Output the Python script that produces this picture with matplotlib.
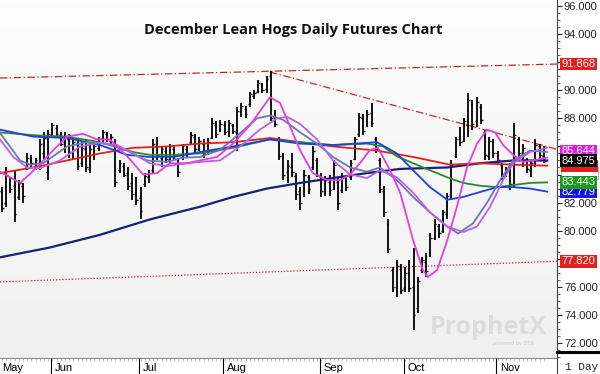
import numpy as np
import matplotlib
matplotlib.use("Agg")
import matplotlib.pyplot as plt
from matplotlib.colors import LinearSegmentedColormap
from matplotlib.lines import Line2D
from matplotlib.patches import Rectangle
from matplotlib.transforms import blended_transform_factory
from matplotlib.ticker import FuncFormatter, MultipleLocator

# daily OHLC bars, index 0 = first bar shown (mid May)
highs = [83.1, 84.5, 83.8, 84.3, 83.6, 83.4, 85.5, 85.4, 85.2, 86.5,
         87.0, 87.2, 87.7, 87.5, 87.0, 87.0, 86.9, 86.7, 86.5, 86.3,
         86.5, 86.1, 86.2, 86.7, 87.2, 87.0, 86.9, 86.5, 85.0, 84.8,
         84.5, 84.1, 83.8, 83.1, 84.1, 84.3, 86.5, 86.7, 86.0, 86.0,
         86.2, 86.0, 85.2, 86.2, 86.0, 87.0, 86.9, 86.7, 86.5, 86.6,
         88.0, 87.8, 87.9, 87.8, 87.9, 87.6, 88.8, 89.1, 88.9, 89.9,
         90.0, 90.7, 90.5, 91.0, 91.35, 88.6, 86.7, 85.5, 85.0, 85.5,
         84.1, 83.1, 84.3, 84.0, 86.0, 85.2, 84.1, 83.9, 84.0, 85.0,
         83.8, 84.1, 83.9, 85.0, 86.7, 88.4, 88.3, 88.6, 89.1, 86.7,
         85.2, 83.2, 80.8, 77.4, 77.9, 77.6, 77.4, 77.9, 78.8, 76.7,
         78.1, 78.4, 79.8, 80.8, 80.5, 81.5, 82.7, 85.0, 86.7, 87.4,
         88.0, 89.8, 89.3, 89.5, 89.0, 87.2, 86.7, 86.5, 85.7, 84.8,
         84.5, 84.8, 87.7, 86.7, 86.2, 85.2, 85.0, 86.5, 86.2, 86.0]
lows = [81.3, 81.7, 82.7, 80.6, 82.2, 82.0, 84.3, 84.5, 84.3, 84.3,
        85.0, 83.6, 86.7, 86.6, 86.0, 85.5, 85.2, 85.0, 84.3, 84.5,
        84.2, 84.1, 85.0, 85.7, 86.2, 86.3, 86.2, 83.1, 84.1, 83.8,
        82.9, 82.2, 81.8, 80.8, 83.1, 83.4, 84.1, 85.0, 84.5, 84.8,
        84.8, 85.0, 83.8, 85.0, 85.2, 86.2, 85.5, 85.7, 85.2, 85.4,
        86.5, 86.6, 87.0, 86.8, 86.7, 86.9, 85.7, 88.1, 88.0, 88.8,
        89.4, 89.8, 89.8, 89.8, 87.8, 87.4, 85.0, 83.6, 83.4, 83.8,
        82.2, 81.5, 82.4, 82.6, 84.3, 83.8, 82.4, 82.5, 82.5, 82.9,
        81.5, 82.7, 82.8, 83.6, 85.0, 86.7, 86.8, 87.4, 87.4, 85.5,
        82.7, 81.0, 78.4, 75.6, 75.3, 75.5, 75.6, 75.6, 72.9, 74.1,
        77.0, 76.7, 78.1, 79.3, 79.5, 79.8, 80.8, 82.2, 85.2, 86.0,
        86.3, 86.7, 87.2, 87.4, 87.6, 85.0, 85.0, 85.2, 84.8, 83.6,
        83.8, 82.9, 83.1, 85.2, 84.5, 84.1, 83.8, 84.5, 85.0, 84.8]
opens = [82.8, 82.0, 83.6, 83.2, 82.4, 83.2, 84.5, 85.0, 84.6, 84.8,
         85.5, 84.2, 87.0, 87.3, 86.8, 86.3, 86.5, 85.5, 86.2, 84.8,
         85.8, 84.4, 85.7, 85.9, 86.6, 86.9, 86.4, 86.4, 84.3, 84.6,
         84.1, 83.4, 82.7, 82.3, 83.3, 83.8, 84.3, 86.3, 85.2, 85.7,
         85.0, 85.8, 85.0, 85.2, 85.8, 86.3, 86.7, 85.9, 86.2, 85.6,
         86.6, 87.5, 87.1, 87.5, 87.1, 87.5, 87.0, 88.3, 88.7, 89.0,
         89.6, 89.9, 90.3, 90.1, 91.0, 88.2, 86.5, 85.2, 84.2, 84.5,
         83.9, 82.8, 82.5, 83.8, 84.5, 85.0, 83.8, 82.7, 83.5, 83.0,
         83.5, 82.9, 83.6, 83.8, 85.1, 86.9, 88.0, 87.5, 88.4, 86.5,
         85.0, 82.8, 80.5, 77.2, 76.0, 77.3, 75.9, 77.0, 76.0, 74.5,
         77.2, 77.8, 78.3, 79.5, 80.3, 80.0, 81.2, 82.5, 85.3, 86.5,
         86.4, 87.5, 89.0, 87.8, 88.8, 87.0, 85.3, 86.3, 85.5, 84.7,
         84.0, 84.4, 83.4, 86.5, 85.4, 85.0, 84.3, 84.7, 86.0, 85.3]
closes = [81.6, 84.0, 83.0, 81.2, 83.4, 82.5, 85.2, 84.8, 85.0, 86.2,
          86.6, 86.9, 87.5, 86.9, 86.2, 86.6, 85.6, 86.3, 84.6, 85.9,
          84.5, 85.8, 86.0, 86.5, 87.0, 86.5, 86.7, 83.5, 84.8, 84.0,
          83.2, 82.6, 82.2, 81.4, 83.9, 84.1, 86.2, 85.4, 85.8, 85.1,
          86.0, 85.3, 84.2, 86.0, 85.5, 86.8, 85.8, 86.4, 85.5, 86.3,
          87.7, 86.9, 87.6, 87.0, 87.7, 87.1, 88.5, 88.9, 88.3, 89.7,
          89.8, 90.5, 90.0, 90.8, 88.0, 87.6, 85.3, 84.0, 84.6, 84.2,
          82.6, 82.0, 84.0, 83.0, 85.7, 84.0, 82.8, 83.6, 82.9, 84.7,
          82.0, 83.8, 83.1, 84.8, 86.5, 88.1, 87.1, 88.3, 87.7, 85.8,
          83.0, 81.3, 78.7, 76.0, 77.5, 75.8, 77.0, 75.9, 74.0, 76.4,
          77.9, 77.1, 79.5, 80.5, 79.8, 81.3, 82.5, 84.7, 86.5, 86.3,
          87.8, 89.3, 87.6, 89.2, 87.9, 85.4, 86.4, 85.5, 85.0, 83.9,
          84.3, 83.3, 86.8, 85.5, 85.9, 84.4, 84.8, 86.1, 85.4, 84.975]

month_names = ["May", "Jun", "Jul", "Aug", "Sep", "Oct", "Nov"]
month_starts = [-0.5, 12, 33, 53, 76, 96, 118]

# moving averages: (bar index, price)
navy_x = [-0.5, 11.4, 23.3, 35.2, 47.1, 55, 63.1, 71, 78.8, 86.9, 94.8, 106, 113.8, 121.7, 129.8]
navy_y = [78.1, 78.8, 79.7, 80.8, 81.7, 82.4, 83.0, 83.4, 83.75, 84.1, 84.4, 84.5, 84.8, 85.0, 85.0]

red_x = [-0.5, 7.4, 15.5, 23.3, 31.2, 39.3, 47.1, 55, 63.8, 71, 78.8, 89.3, 97.9, 106.7,
         113.8, 121.7, 129.8]
red_y = [84.1, 84.5, 85.0, 85.5, 85.9, 86.0, 86.2, 86.3, 86.6, 86.3, 86.0, 85.7, 85.25, 84.7,
         84.8, 84.7, 84.63]

green_x = [-0.5, 7.4, 15.5, 23.3, 31.2, 35.2, 40.7, 47.1, 55, 63.8, 71, 78.8, 86.9, 90.7, 94,
           97.9, 101.9, 106, 109.8, 113.8, 117.9, 121.7, 125.7, 129.8]
green_y = [87.0, 86.8, 86.7, 86.3, 85.6, 85.4, 85.4, 85.5, 85.9, 86.5, 86.3, 86.1, 86.2, 86.0, 85.3,
           84.8, 84.3, 83.8, 83.4, 83.2, 83.1, 83.25, 83.4, 83.44]

blue_x = [-0.5, 7.4, 15.5, 23.3, 29.8, 35.2, 40.7, 47.1, 55, 63.8, 71, 78.8, 89.3, 94, 97.9,
          101.9, 106, 109.8, 113.8, 117.9, 121.7, 125.7, 129.8]
blue_y = [87.2, 86.7, 86.6, 86.1, 85.4, 85.25, 85.25, 85.6, 86.0, 86.5, 86.2, 86.1, 86.3, 85.5, 84.3,
          83.1, 82.2, 82.4, 82.75, 83.1, 83.1, 83.0, 82.78]

magenta_x = [-0.5, 1.9, 4.3, 8.3, 12.1, 15.5, 19.3, 22.6, 25.7, 29.8, 33.6, 36.9, 40, 44, 47.1,
             51.2, 55, 59, 63.8, 66.2, 68.6, 71, 74, 77.4, 80.5, 82.9, 85.2, 87.6, 89.5, 92.4,
             94.8, 97.9, 100.2, 101.4, 103.6, 106, 108.3, 110.7, 113.1, 115.5, 117.4, 119.3,
             121.7, 124, 126.4, 129.8]
magenta_y = [84.2, 83.8, 83.4, 84.5, 85.7, 86.7, 86.9, 86.5, 86.5, 85.3, 84.0, 84.1, 84.8, 84.8, 85.0,
             85.25, 86.2, 87.5, 89.5, 89.1, 87.4, 85.7, 84.1, 83.6, 83.6, 84.0, 84.8, 85.75, 85.9, 84.3,
             82.7, 79.3, 77.2, 76.7, 77.2, 79.3, 81.7, 84.5, 86.2, 87.2, 87.0, 86.1,
             85.4, 84.9, 85.0, 85.2]

violet_x = [-0.5, 2.7, 6, 9, 13.8, 18.6, 23.3, 27.4, 31.2, 35.2, 39.3, 44, 47.1, 51.9, 56.7,
            61.4, 65.5, 67.9, 71, 75, 78.8, 82.9, 86.9, 90, 94, 97.9, 101.9, 106, 109.8, 113.1,
            116.2, 119.3, 121.7, 125.7, 129.8]
violet_y = [86.5, 85.25, 84.5, 84.45, 85.0, 86.0, 86.25, 86.1, 85.5, 84.8, 84.6, 84.8, 84.9, 85.0, 86.0,
            87.2, 88.0, 88.1, 87.6, 86.5, 85.0, 84.0, 83.75, 84.3, 83.8, 82.7, 81.3, 80.3, 79.9, 80.3,
            81.7, 83.6, 84.8, 85.6, 85.9]

slate_x = [-0.5, 1.9, 4.3, 6.7, 9.8, 15.5, 20.2, 25, 29.8, 34.5, 39.3, 43.1, 47.1, 51.9, 56.7,
           60.7, 63.8, 66.9, 71, 75, 78.8, 82.9, 86.9, 90, 94, 97.9, 101.9, 106, 108.6, 112.1,
           115.5, 118.6, 121.7, 125.7, 129.8]
slate_y = [86.95, 86.0, 85.0, 84.7, 84.8, 86.0, 86.3, 86.2, 85.7, 85.0, 84.9, 85.2, 85.25, 85.75, 86.95,
           88.0, 88.2, 87.9, 87.0, 86.2, 85.25, 84.5, 84.2, 84.5, 83.6, 82.4, 81.3, 80.3, 79.8, 80.5,
           82.0, 83.6, 85.0, 85.7, 85.6]

# trend lines (bar index, price)
channel_x = [-0.5, 132.1]
upper_y = [90.87, 91.868]
lower_y = [76.35, 77.82]
falling_x = [63.8, 132.1]
falling_y = [91.3, 85.8]

# price tags on the right edge, drawn in this order; two are mostly covered
tag_values = [91.868, 77.820, 85.644, 84.105, 84.627, 84.975, 82.779, 83.443]
tag_colors = ["#e3201e", "#e3201e", "#e020e0", "white", "#e3201e", "black", "#1414e6", "#1c9a1c"]
tag_shown = [True, True, True, False, False, True, True, True]

W, H = 600, 374
fig = plt.figure(figsize=(6, 3.74), dpi=100, facecolor="white")
ax = fig.add_axes([0, 16 / H, 557 / W, 358 / H])

# faint vertical gradient behind the chart
bg = LinearSegmentedColormap.from_list("bg", ["#f0f0f0", "#fdfdfd"])
ax.imshow(np.linspace(0, 1, 100).reshape(-1, 1)[::-1], extent=[0, 1, 0, 1],
          transform=ax.transAxes, cmap=bg, aspect="auto", zorder=0)

idx = np.arange(len(highs))
ax.plot(channel_x, upper_y, color="#c0282c", lw=0.9, ls=(0, (6, 2, 1, 2)), zorder=2)
ax.plot(falling_x, falling_y, color="#c0282c", lw=0.9, ls=(0, (6, 2, 1, 2)), zorder=2)
ax.plot(channel_x, lower_y, color="#c0282c", lw=0.9, ls=(0, (1, 1.5)), zorder=2)

ax.vlines(idx, lows, highs, color="black", lw=1.3, zorder=3)
ax.hlines(opens, idx - 0.45, idx, color="black", lw=1.0, zorder=3)
ax.hlines(closes, idx, idx + 0.45, color="black", lw=1.0, zorder=3)

ax.plot(navy_x, navy_y, color="#16207a", lw=1.6, zorder=4)
ax.plot(red_x, red_y, color="#e3201e", lw=1.3, zorder=4)
ax.plot(green_x, green_y, color="#2a8a2a", lw=1.3, zorder=4)
ax.plot(blue_x, blue_y, color="#1f3fe0", lw=1.3, zorder=4)
ax.plot(slate_x, slate_y, color="#6c78b0", lw=1.3, zorder=4)
ax.plot(violet_x, violet_y, color="#b862e8", lw=1.3, zorder=4)
ax.plot(magenta_x, magenta_y, color="#e23ee2", lw=1.3, zorder=4)

ax.set_xlim(-0.476, 132.14)
ax.set_ylim(70.93, 96.43)

for side in ["left", "top"]:
    ax.spines[side].set_visible(False)
ax.spines["right"].set_color("#444444")
ax.spines["right"].set_linewidth(0.8)
ax.spines["bottom"].set_color("#888888")
ax.spines["bottom"].set_linewidth(0.8)
ax.set_xticks([])
ax.yaxis.tick_right()
ax.yaxis.set_major_locator(MultipleLocator(2))
ax.yaxis.set_minor_locator(MultipleLocator(0.5))


def price_label(v, _):
    # tick labels sitting under a price tag are not visible in the chart
    if any(abs(v - t) < 0.5 for t in tag_values):
        return ""
    return f"{v:.3f}"


ax.yaxis.set_major_formatter(FuncFormatter(price_label))
ax.tick_params(axis="y", which="major", length=3.5, width=0.8, pad=1.5,
               labelsize=8, colors="#222222")
ax.tick_params(axis="y", which="minor", length=1.8, width=0.6, colors="#444444")
for lab in ax.get_yticklabels():
    lab.set_family("Liberation Sans")

# price tags
tr = blended_transform_factory(ax.transAxes, ax.transData)
for v, c, shown in zip(tag_values, tag_colors, tag_shown):
    if shown:
        ax.text(1.008, v, f"{v:.3f}", transform=tr, ha="left", va="center",
                fontsize=8, family="Liberation Sans", color="white", clip_on=False,
                zorder=6, bbox=dict(boxstyle="square,pad=0.12", fc=c, ec="none"))
    else:
        ax.add_patch(Rectangle((1.007, v - 0.43), 0.066, 0.86, transform=tr, fc=c,
                               ec="#999999" if c == "white" else "none", lw=0.5,
                               clip_on=False, zorder=5))

# title and watermark
fig.text(293 / W, 1 - 30 / H, "December Lean Hogs Daily Futures Chart", ha="center",
         va="center", fontsize=10.5, fontweight="bold", family="Open Sans", color="#111111")
fig.text(488 / W, 1 - 328 / H, "ProphetX", ha="center", va="center", fontsize=18,
         fontweight="bold", family="Open Sans", color="#dcdcdc")
fig.text(513 / W, 1 - 343 / H, "powered by DTN", ha="center", va="center", fontsize=3.5,
         family="DejaVu Sans", color="#cccccc")

# month strip
ax_b = fig.add_axes([0, 0, 557 / W, 16 / H])
ax_b.set_xlim(ax.get_xlim())
ax_b.set_ylim(0, 1)
ax_b.axis("off")
ax_b.vlines(idx, 0.82, 1.0, color="#aaaaaa", lw=0.5)
ax_b.vlines(np.array(month_starts[1:]) - 0.3, 0, 1, color="black", lw=0.8)
for name, start in zip(month_names, month_starts):
    ax_b.text(start + 0.6, 0.36, name, ha="left", va="center", fontsize=8,
              family="Liberation Sans", color="black")

fig.add_artist(Line2D([557 / W, 557 / W], [0, 16 / H], color="#444444", lw=0.8))
fig.add_artist(Line2D([557 / W, 1], [1 - 352 / H] * 2, color="black", lw=2.2))
fig.text(565 / W, 1 - 367 / H, "1 Day", ha="left", va="center", fontsize=8,
         family="Liberation Mono", color="#222222")

fig.savefig("out.png", dpi=100, facecolor="white")
